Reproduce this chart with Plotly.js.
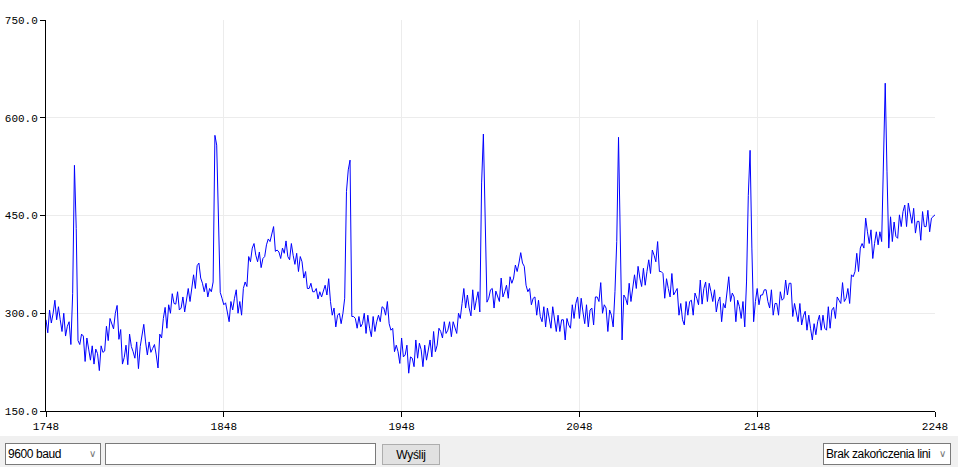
<!DOCTYPE html>
<html>
<head>
<meta charset="utf-8">
<script src="https://cdn.plot.ly/plotly-3.0.1.min.js"></script>
<style>
  html, body { margin: 0; padding: 0; width: 958px; height: 467px; overflow: hidden; background: #ffffff; font-family: "Liberation Sans", Arial, sans-serif; }
  #chart { position: absolute; left: 0; top: 0; width: 958px; height: 436px; }
  #bar { position: absolute; left: 0; top: 436px; width: 958px; height: 31px; background: #f0f0f0; }
  .box { position: absolute; background: #fff; border: 1px solid #7a7a7a; box-sizing: border-box; font-size: 12px; letter-spacing: -0.4px; color: #000; line-height: 20px; padding-left: 2px; white-space: nowrap; overflow: hidden; }
  .chev { position: absolute; right: 4px; top: 0; font-size: 10px; color: #777; background: #fff; padding-left: 2px; }
  .btn { position: absolute; background: #e1e1e1; border: 1px solid #adadad; box-sizing: border-box; font-size: 12px; letter-spacing: -0.3px; text-align: center; line-height: 20px; }
</style>
</head>
<body>
<div id="chart"></div>
<div id="bar">
  <div class="box" style="left:5px; top:7px; width:96px; height:22px;">9600 baud<span class="chev">&#8744;</span></div>
  <div class="box" style="left:105px; top:7px; width:271px; height:22px;"></div>
  <div class="btn" style="left:382px; top:8px; width:58px; height:21px;">Wyślij</div>
  <div class="box" style="left:823px; top:7px; width:128px; height:22px;">Brak zakończenia lini<span class="chev">&#8744;</span></div>
</div>
<script>
const xStart = 1748;
const values = [
290,270,305,285,300,320,290,310,290,272,300,265,280,287,252,330,527,430,258,252,
268,265,226,262,245,228,250,222,245,238,212,250,240,242,280,258,292,285,276,300,
312,260,275,222,232,251,221,268,249,241,231,256,215,249,264,283,256,236,256,240,
246,252,236,216,268,262,292,309,277,313,300,330,315,314,333,305,308,325,302,318,
338,318,338,359,338,373,377,354,346,333,346,325,338,333,348,573,558,420,332,323,
313,316,300,287,318,305,323,336,300,318,297,338,348,341,387,379,400,407,389,379,
394,370,384,387,405,414,410,420,433,395,397,394,384,400,392,411,387,382,407,389,
375,392,364,387,379,354,364,338,338,346,333,333,338,322,333,325,333,343,328,353,
318,297,308,279,297,300,284,300,323,487,520,535,295,295,292,277,295,279,284,300,
269,297,277,264,295,272,287,297,287,310,308,297,318,284,274,277,241,251,241,223,
262,233,236,251,208,233,231,218,259,231,254,244,218,251,228,244,259,233,272,241,
251,277,272,262,287,269,274,287,264,287,279,269,300,292,315,338,308,328,308,296,
336,305,320,333,302,500,575,420,317,323,336,338,308,334,325,318,354,325,333,343,
323,356,346,354,374,364,377,393,377,372,343,333,338,313,323,325,297,320,295,287,
310,279,308,295,277,310,292,272,297,272,290,290,259,292,282,277,313,292,315,325,
292,323,302,284,313,279,305,308,282,325,325,318,347,300,313,308,272,305,297,279,
333,410,570,410,259,328,323,313,346,318,343,359,338,372,354,341,369,343,364,382,
361,397,389,379,410,364,364,361,323,353,338,325,361,328,333,338,297,315,290,282,
318,297,318,320,297,331,323,313,351,314,338,348,318,346,333,318,336,302,318,325,
287,315,308,328,356,318,331,325,287,320,310,292,318,279,348,481,550,400,287,318,
338,313,328,328,336,336,318,308,336,297,315,315,297,333,320,323,351,328,346,346,
295,315,302,287,315,282,296,303,274,297,277,259,284,267,287,297,274,297,277,274,
310,277,305,309,292,325,320,315,347,318,323,338,315,359,356,364,392,364,400,407,
400,446,425,407,428,384,407,425,405,425,410,522,653,517,400,448,410,440,418,415,
451,433,456,466,433,469,453,438,461,423,441,441,412,456,433,433,458,425,446,448,
451
];
const xs = values.map((v, i) => xStart + i);
const xTicks = [1748, 1848, 1948, 2048, 2148, 2248];
const yTicks = [150, 300, 450, 600, 750];
const yTickText = ["150.0", "300.0", "450.0", "600.0", "750.0"];

const trace = {
  x: xs, y: values, type: 'scatter', mode: 'lines',
  line: { color: '#0000ff', width: 1 }, hoverinfo: 'skip'
};
const layout = {
  width: 958, height: 436,
  margin: { l: 46, r: 23, t: 20, b: 25 },
  paper_bgcolor: '#ffffff', plot_bgcolor: '#ffffff',
  showlegend: false,
  xaxis: {
    range: [1748, 2248], tickvals: xTicks, ticktext: xTicks.map(String),
    showgrid: true, gridcolor: '#ececec', gridwidth: 1,
    showline: true, linecolor: '#000000', linewidth: 1,
    ticks: 'outside', ticklen: 5, tickcolor: '#000000',
    tickfont: { family: 'Liberation Mono, monospace', size: 11, color: '#000000' },
    zeroline: false, fixedrange: true
  },
  yaxis: {
    range: [150, 750], tickvals: yTicks, ticktext: yTickText,
    showgrid: true, gridcolor: '#ececec', gridwidth: 1,
    showline: true, linecolor: '#000000', linewidth: 1,
    ticks: 'outside', ticklen: 5, tickcolor: '#000000',
    tickfont: { family: 'Liberation Mono, monospace', size: 11, color: '#000000' },
    zeroline: false, fixedrange: true
  }
};
Plotly.newPlot('chart', [trace], layout, { displayModeBar: false, staticPlot: true });
</script>
</body>
</html>
